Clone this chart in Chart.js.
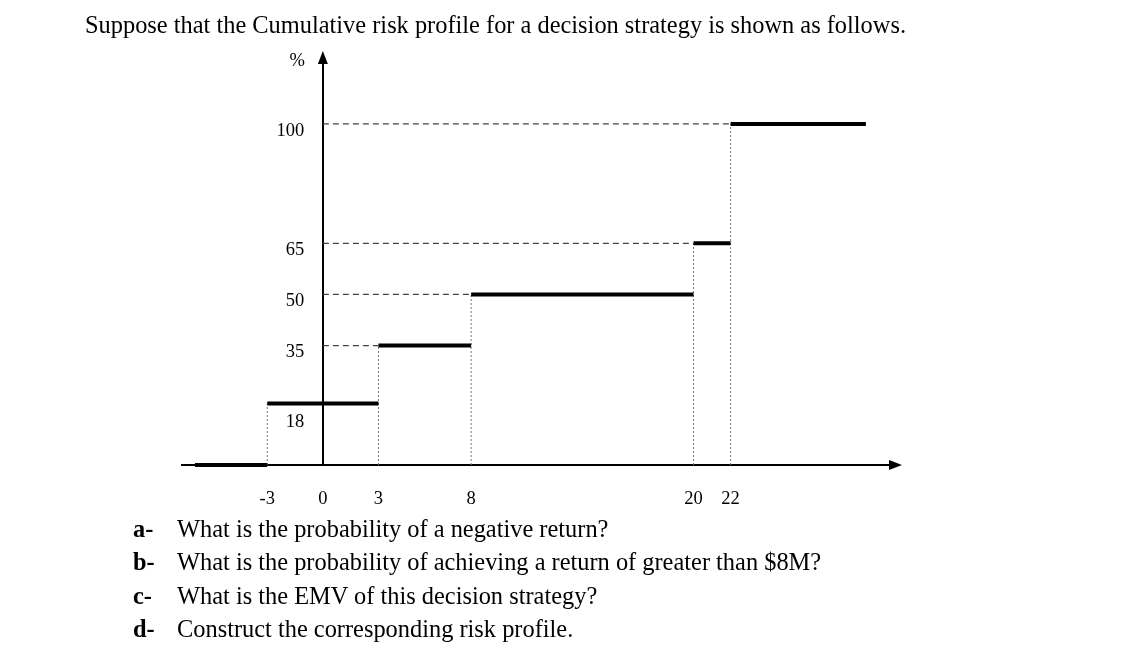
<!DOCTYPE html>
<html>
<head>
<meta charset="utf-8">
<script src="https://cdn.jsdelivr.net/npm/chart.js@4.4.1/dist/chart.umd.min.js"></script>
<style>
  body { margin: 0; background: #fff; font-family: "Liberation Serif", "DejaVu Serif", serif; color: #000; }
  #wrap { position: relative; width: 1147px; height: 653px; overflow: hidden; }
  #chart { position: absolute; left: 0; top: 0; }
  .title { position: absolute; left: 85px; top: 10px; font-size: 24.4px; line-height: 30px; white-space: nowrap; }
  .qs { position: absolute; left: 133px; top: 512px; font-size: 24.4px; line-height: 33.3px; white-space: nowrap; }
  .qs b { display: inline-block; width: 44px; }
</style>
</head>
<body>
<div id="wrap">
  <canvas id="chart" width="1147" height="653"></canvas>
  <div class="title">Suppose that the Cumulative risk profile for a decision strategy is shown as follows.</div>
  <div class="qs">
    <div><b>a-</b>What is the probability of a negative return?</div>
    <div><b>b-</b>What is the probability of achieving a return of greater than $8M?</div>
    <div><b>c-</b>What is the EMV of this decision strategy?</div>
    <div><b>d-</b>Construct the corresponding risk profile.</div>
  </div>
</div>
<script>
// returns ($M) where each step begins, and where it ends
const stepStart = [-6.9, -3, 3, 8, 20, 22];
const stepEnd = [-3, 3, 8, 20, 22, 29.3];
// cumulative probability (%) for each step
const cumPct = [0, 18, 35, 50, 65, 100];
const xTicks = [-3, 0, 3, 8, 20, 22];
const yTicks = [18, 35, 50, 65, 100];

const datasets = [];

// thick step segments
stepStart.forEach((s, i) => {
    datasets.push({
        data: [{x: s, y: cumPct[i]}, {x: stepEnd[i], y: cumPct[i]}],
        borderColor: '#000', borderWidth: 4, pointRadius: 0, borderCapStyle: 'butt'
    });
});

// dashed guides from the y axis to each step (18 crosses the axis itself)
stepStart.forEach((s, i) => {
    if (s <= 0) return;
    datasets.push({
        data: [{x: 0, y: cumPct[i]}, {x: s, y: cumPct[i]}],
        borderColor: '#444', borderWidth: 1.3, borderDash: [6, 4], pointRadius: 0
    });
});

// dotted drops from each step down to the x axis
stepStart.forEach((s, i) => {
    if (i === 0) return;
    datasets.push({
        data: [{x: s, y: 0}, {x: s, y: cumPct[i]}],
        borderColor: '#777', borderWidth: 1, borderDash: [2, 2], pointRadius: 0
    });
});

// arrowheads on the axes and the % label
const arrows = {
    id: 'arrows',
    afterDraw(chart) {
        const {ctx, scales: {x, y}} = chart;
        const x0 = x.getPixelForValue(0);
        const y0 = y.getPixelForValue(0);
        const right = x.right, top = y.top;
        ctx.save();
        ctx.fillStyle = '#000';
        ctx.beginPath();
        ctx.moveTo(right + 12, y0);
        ctx.lineTo(right - 1, y0 - 5);
        ctx.lineTo(right - 1, y0 + 5);
        ctx.closePath();
        ctx.fill();
        ctx.beginPath();
        ctx.moveTo(x0, top - 4);
        ctx.lineTo(x0 - 5, top + 9);
        ctx.lineTo(x0 + 5, top + 9);
        ctx.closePath();
        ctx.fill();
        ctx.font = '18.5px "Liberation Serif"';
        ctx.textAlign = 'right';
        ctx.textBaseline = 'middle';
        ctx.fillText('%', x0 - 18, top + 6);
        ctx.restore();
    }
};

new Chart(document.getElementById('chart'), {
    type: 'line',
    data: { datasets },
    options: {
        responsive: false,
        animation: false,
        layout: { padding: { left: 182, right: 257, top: 55, bottom: 188 } },
        plugins: { legend: { display: false }, tooltip: { enabled: false } },
        elements: { line: { tension: 0 } },
        datasets: { line: { clip: false } },
        scales: {
            x: {
                type: 'linear', min: -7.6, max: 30.6,
                position: { y: 0 },
                afterBuildTicks: (s) => { s.ticks = xTicks.map(v => ({value: v})); },
                grid: { display: false },
                border: { color: '#000', width: 2 },
                ticks: { color: '#000', padding: 15, font: { family: 'Liberation Serif', size: 18.5 } }
            },
            y: {
                type: 'linear', min: 0, max: 120.2,
                position: { x: 0 },
                afterBuildTicks: (s) => { s.ticks = yTicks.map(v => ({value: v})); },
                grid: { display: false },
                border: { color: '#000', width: 2 },
                ticks: {
                    color: '#000', labelOffset: 7,
                    // labels sit on the axis line when it is placed at x = 0, so pad them with a space;
                    // the 18 label is pushed below its bar like in the original sketch
                    callback: (v) => v === 18 ? ['', v + '\u2003'] : v + '\u2003',
                    font: { family: 'Liberation Serif', size: 18.5 }
                }
            }
        }
    },
    plugins: [arrows]
});
</script>
</body>
</html>
